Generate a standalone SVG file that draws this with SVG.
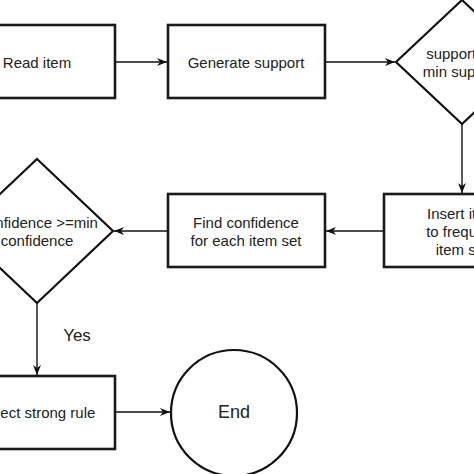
<svg xmlns="http://www.w3.org/2000/svg" width="474" height="474" viewBox="0 0 474 474">
<style>
.box{fill:#fff;stroke:#1a1a1a;stroke-width:2.6}
.shape{fill:#fff;stroke:#111;stroke-width:2.2}
.t{font-family:"Liberation Sans",Arial,sans-serif;font-size:15px;fill:#222;text-anchor:middle;dominant-baseline:central}
.edge{fill:none;stroke:#111;stroke-width:1.4}
</style>
<defs>
<marker id="arr" viewBox="0 0 10 8" refX="10" refY="4" markerWidth="10" markerHeight="8" markerUnits="userSpaceOnUse" orient="auto">
<path d="M0,0 L10,4 L0,8 L3,4 z" fill="#111"/>
</marker>
</defs>
<rect width="474" height="474" fill="#fff"/>
<g id="read-item"><rect class="box" x="-42" y="25" width="157" height="73"/><text class="t" x="37" y="62">Read item</text></g>
<g id="generate-support"><rect class="box" x="168" y="25" width="157" height="73"/><text class="t" x="246" y="62">Generate support</text></g>
<g id="support-check"><polygon class="shape" points="462,0 528,62 462,124 396,62"/><text class="t" x="462" y="53">support &gt;=</text><text class="t" x="462" y="71">min support</text></g>
<g id="insert-item"><rect class="box" x="384" y="194" width="157" height="73"/><text class="t" x="462" y="213">Insert item</text><text class="t" x="462" y="231">to frequent</text><text class="t" x="462" y="249">item set</text></g>
<g id="find-confidence"><rect class="box" x="168" y="194" width="157" height="73"/><text class="t" x="246" y="222">Find confidence</text><text class="t" x="246" y="240">for each item set</text></g>
<g id="confidence-check"><polygon class="shape" points="37,159 113,231 37,303 -39,231"/><text class="t" x="37" y="222">Confidence &gt;=min</text><text class="t" x="37" y="240">confidence</text></g>
<g id="select-rule"><rect class="box" x="-42" y="376" width="157" height="73"/><text class="t" x="37" y="412">Select strong rule</text></g>
<g id="end"><circle class="shape" cx="234" cy="413" r="63"/><text class="t" x="234" y="412" style="font-size:18px">End</text></g>
<g id="connectors">
<path class="edge" d="M115,62 H167" marker-end="url(#arr)"/>
<path class="edge" d="M325,62 H395" marker-end="url(#arr)"/>
<path class="edge" d="M462,124 V193" marker-end="url(#arr)"/>
<path class="edge" d="M384,231 H326" marker-end="url(#arr)"/>
<path class="edge" d="M168,231 H114" marker-end="url(#arr)"/>
<path class="edge" d="M37,303 V375" marker-end="url(#arr)"/>
<path class="edge" d="M115,412 H170" marker-end="url(#arr)"/>
<text class="t" x="77" y="335" style="font-size:17px">Yes</text>
</g>
</svg>
